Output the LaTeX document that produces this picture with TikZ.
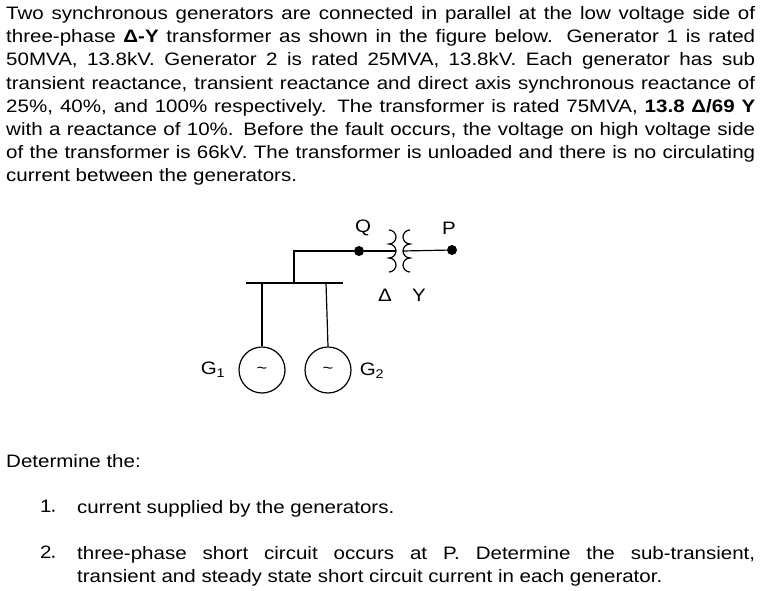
\documentclass[tikz,border=0pt]{standalone}
\usepackage{fontspec}
\setmainfont[FakeStretch=1.14]{Liberation Sans}
\begin{document}
\begin{tikzpicture}[x=1pt,y=-1pt,
  txt/.style={inner sep=0pt,anchor=north west,font=\fontsize{18}{23.1}\selectfont},
  wire/.style={line width=1.2pt},
  dotn/.style={circle,fill=black,inner sep=0pt,minimum size=10pt},
  gen/.style={circle,draw,line width=1.2pt,minimum size=46pt,inner sep=0pt},
  lab/.style={inner sep=0pt,font=\fontsize{18}{20}\selectfont}]
\useasboundingbox (0,0) rectangle (760,591);
\node[txt,text width=749pt,align=justify] (para) at (6,6.5) {\hyphenpenalty=10000 Two synchronous generators are connected in parallel at the low voltage side of\linebreak three-phase \textbf{Δ-Y} transformer as shown in the figure below. Generator 1 is rated\linebreak 50MVA, 13.8kV. Generator 2 is rated 25MVA, 13.8kV. Each generator has sub\linebreak transient reactance, transient reactance and direct axis synchronous reactance of\linebreak 25\%, 40\%, and 100\% respectively. The transformer is rated 75MVA, \textbf{13.8 Δ/69 Y}\linebreak with a reactance of 10\%. Before the fault occurs, the voltage on high voltage side\linebreak of the transformer is 66kV. The transformer is unloaded and there is no circulating\linebreak current between the generators.\par};
% diagram
\coordinate (busL) at (246,283);
\coordinate (busR) at (343,283);
\coordinate (busT) at (294,283);
\coordinate (corner) at (294,251);
\node[dotn] (Q) at (359,251) {};
\node[dotn] (P) at (452,250) {};
\node[lab] (Ql) at (363,228) {Q};
\node[lab] (Pl) at (449,228) {P};
\node[lab] (D) at (385,295) {Δ};
\node[lab] (Yl) at (419,295) {Y};
\node[gen,font=\fontsize{16}{16}\selectfont] (G1) at (262,370) {\raisebox{-2pt}{\textasciitilde}};
\node[gen,font=\fontsize{16}{16}\selectfont] (G2) at (328,370) {\raisebox{-2pt}{\textasciitilde}};
\node[lab] (G1l) at (213,370) {G\textsubscript{1}};
\node[lab] (G2l) at (372,371) {G\textsubscript{2}};
\coordinate (c1) at (389,230);
\coordinate (c2) at (410,230);
\draw[wire] (busL) -- (busR);
\draw[wire] (busT) -- (corner) -- (Q);
\draw[wire] (Q) -- (396,251);
\draw[wire] (c1) arc(-90:90:7) arc(-90:90:7) arc(-90:90:7);
\draw[wire] (c2) arc(270:90:7) arc(270:90:7) arc(270:90:7);
\draw[wire] (403,251) -- (P);
\draw[wire] (262,283) -- (G1.north);
\draw[wire] (326,283) -- (G2.north);
% bottom text
\node[txt] (det) at (6,454) {Determine the:};
\node[txt] (n1) at (40,500) {1{\tiny$\bullet$}};
\node[txt] (t1) at (77,500) {current supplied by the generators.};
\node[txt] (n2) at (40,546) {2{\tiny$\bullet$}};
\node[txt,text width=678pt,align=justify] (t2) at (77,546) {\hyphenpenalty=10000 three-phase short circuit occurs at P. Determine the sub-transient,\linebreak transient and steady state short circuit current in each generator.\par};
\end{tikzpicture}
\end{document}
